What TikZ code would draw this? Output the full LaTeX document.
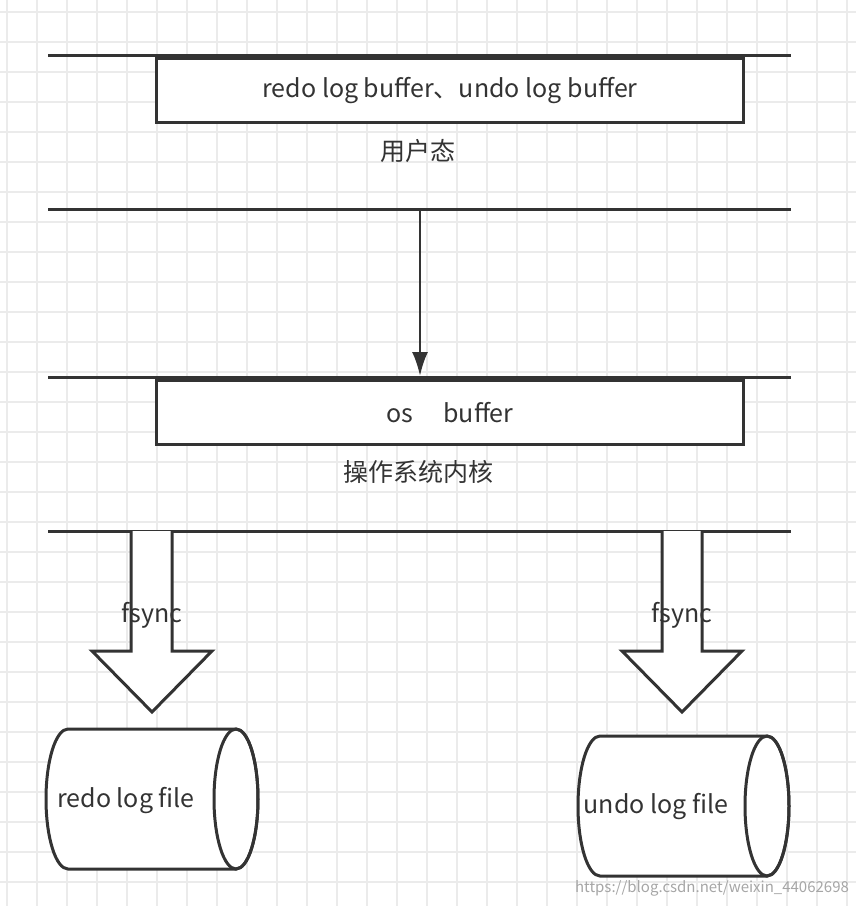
\documentclass[tikz,border=0pt]{standalone}
\usepackage{fontspec}
\usetikzlibrary{arrows.meta}
\setmainfont{Noto Sans CJK SC}
\begin{document}
\begin{tikzpicture}[x=1pt,y=-1pt,
  ln/.style={draw=black!80,line width=3pt},
  box/.style={ln,fill=white},
  lbl/.style={text=black!80,font=\fontsize{25}{28}\selectfont,inner sep=0pt},
  barrow/.style={draw=black!80,line width=3pt,fill=white,line join=miter}]
\useasboundingbox (0,0) rectangle (856,906);
\fill[white] (0,0) rectangle (856,906);
\foreach \x in {7,37,...,856} \draw[black!8,line width=1.2pt] (\x,0) -- (\x,906);
\foreach \y in {12,42,...,906} \draw[black!8,line width=1.2pt] (0,\y) -- (856,\y);
\coordinate (l1a) at (48,55); \coordinate (l1b) at (791,55);
\coordinate (l2a) at (48,209); \coordinate (l2b) at (791,209);
\coordinate (l3a) at (48,377); \coordinate (l3b) at (791,377);
\coordinate (l4a) at (48,531); \coordinate (l4b) at (791,531);
\draw[ln] (l1a) -- (l1b);
\draw[ln] (l2a) -- (l2b);
\draw[ln] (l3a) -- (l3b);
\draw[ln] (l4a) -- (l4b);
\node[box,minimum width=587pt,minimum height=64pt,anchor=north west,inner sep=0pt] (b1) at (155,57) {};
\node[lbl] at (b1.center) {redo log buffer、undo log buffer};
\node[lbl] (u) at (418,151) {用户态};
\node[box,minimum width=587pt,minimum height=64pt,anchor=north west,inner sep=0pt] (b2) at (155,379) {};
\node[lbl] at (b2.center) {os\hspace{30pt}buffer};
\node[lbl] (k) at (418,472) {操作系统内核};
\coordinate (as) at (420,209); \coordinate (ae) at (420,376);
\draw[draw=black!80,line width=2.5pt,-{Latex[length=24pt,width=16pt]}] (as) -- (ae);
\draw[barrow] (131,531) -- (131,651) -- (92,651) -- (152,712) -- (212,651) -- (172,651) -- (172,531);
\node[lbl] (f1) at (152,615) {fsync};
\draw[barrow] (662,531) -- (662,651) -- (622,651) -- (682,712) -- (742,651) -- (702,651) -- (702,531);
\node[lbl] (f2) at (682,615) {fsync};
\draw[ln,fill=white] (236,729) -- (68,729) arc[start angle=270,end angle=90,x radius=22,y radius=70] -- (236,869) arc[start angle=90,end angle=-90,x radius=22,y radius=70];
\draw[ln] (236,799) ellipse[x radius=22,y radius=70];
\node[lbl] (c1) at (126,801) {redo log file};
\draw[ln,fill=white] (767,736) -- (600,736) arc[start angle=270,end angle=90,x radius=22,y radius=70] -- (767,876) arc[start angle=90,end angle=-90,x radius=22,y radius=70];
\draw[ln] (767,806) ellipse[x radius=22,y radius=70];
\node[lbl] (c2) at (656,807) {undo log file};
\node[text=black!35,font=\fontsize{15}{18}\selectfont,inner sep=0pt] (w) at (712,888) {https://blog.csdn.net/weixin\_44062698};
\end{tikzpicture}
\end{document}
